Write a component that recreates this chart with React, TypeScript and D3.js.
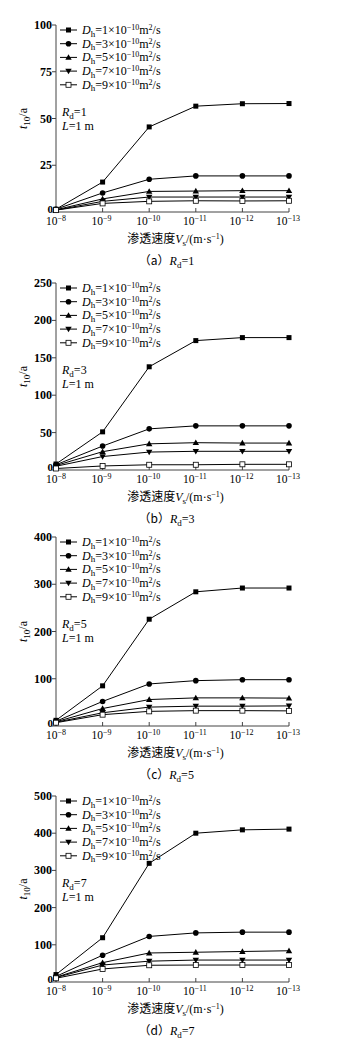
import React from "react";
import * as d3 from "d3";

// x categories: seepage velocity exponent 10^-8 ... 10^-13
const xExponents = ["−8", "−9", "−10", "−11", "−12", "−13"];
const dhLabels = ["1", "3", "5", "7", "9"];
const markerTypes = ["square", "circle", "triUp", "triDown", "openSquare"];

// Rd = 1
const rd1Dh1 = [1.5, 16, 45.5, 56.6, 57.9, 58];
const rd1Dh3 = [1.5, 10.2, 17.5, 19.3, 19.3, 19.3];
const rd1Dh5 = [1.2, 7, 11, 11.2, 11.4, 11.4];
const rd1Dh7 = [1, 5.7, 8, 8, 8, 8];
const rd1Dh9 = [1, 4.6, 5.7, 6, 5.9, 6];

// Rd = 3
const rd3Dh1 = [8, 51, 138, 173, 177, 177];
const rd3Dh3 = [7, 32, 55, 59, 59, 59];
const rd3Dh5 = [6, 24.5, 35, 36.5, 36, 36];
const rd3Dh7 = [5, 18, 24, 25, 25, 25];
const rd3Dh9 = [2, 5.4, 7, 7, 7.6, 7.6];

// Rd = 5
const rd5Dh1 = [12, 85, 226, 284, 292, 292];
const rd5Dh3 = [10, 52, 89, 96, 98, 98];
const rd5Dh5 = [9, 37, 56, 59.5, 59.5, 59];
const rd5Dh7 = [8, 28, 40, 42, 42, 42.5];
const rd5Dh9 = [7, 24, 31, 32.5, 32.5, 32];

// Rd = 7
const rd7Dh1 = [20, 119, 319, 400, 409, 411];
const rd7Dh3 = [15, 72, 122.5, 132, 134, 134];
const rd7Dh5 = [13, 52, 78, 80, 82, 84];
const rd7Dh7 = [12, 45.6, 56, 59, 59, 59];
const rd7Dh9 = [10, 35, 45, 45.6, 45.6, 45.6];

const panels = [
  { letter: "a", rd: "1", yMax: 100, yStep: 25, top: 25, bottom: 212, series: [rd1Dh1, rd1Dh3, rd1Dh5, rd1Dh7, rd1Dh9] },
  { letter: "b", rd: "3", yMax: 250, yStep: 50, top: 283, bottom: 470, series: [rd3Dh1, rd3Dh3, rd3Dh5, rd3Dh7, rd3Dh9] },
  { letter: "c", rd: "5", yMax: 400, yStep: 100, top: 537, bottom: 726, series: [rd5Dh1, rd5Dh3, rd5Dh5, rd5Dh7, rd5Dh9] },
  { letter: "d", rd: "7", yMax: 500, yStep: 100, top: 796, bottom: 982, series: [rd7Dh1, rd7Dh3, rd7Dh5, rd7Dh7, rd7Dh9] },
];

const W = 352;
const H = 1046;
const left = 56;
const right = 289;
const serif = "Liberation Serif";
const cjk = "Noto Sans CJK SC";
const axisColor = "#444";

const Marker = ({ type, x, y }: { type: string; x: number; y: number }) => {
  const s = 5;
  if (type === "square") return <rect x={x - s / 2} y={y - s / 2} width={s} height={s} fill="#000" />;
  if (type === "openSquare")
    return <rect x={x - s / 2} y={y - s / 2} width={s} height={s} fill="#fff" stroke="#000" strokeWidth={0.8} />;
  if (type === "circle") return <circle cx={x} cy={y} r={2.8} fill="#000" />;
  if (type === "triUp")
    return <path d={`M${x},${y - 3.2}L${x + 3.2},${y + 2.4}L${x - 3.2},${y + 2.4}Z`} fill="#000" />;
  return <path d={`M${x},${y + 3.2}L${x + 3.2},${y - 2.4}L${x - 3.2},${y - 2.4}Z`} fill="#000" />;
};

const Panel = ({ p }: { p: (typeof panels)[number] }) => {
  const x = d3.scaleLinear().domain([0, xExponents.length - 1]).range([left, right]);
  const y = d3.scaleLinear().domain([0, p.yMax]).range([p.bottom, p.top]);
  const yTicks = d3.range(0, p.yMax + 1, p.yStep);
  const line = d3
    .line<number>()
    .x((_, i) => x(i))
    .y((d) => y(d));
  const cx = (left + right) / 2;

  return (
    <g>
      {/* axes */}
      <line x1={left} x2={left} y1={p.top} y2={p.bottom} stroke={axisColor} strokeWidth={1} />
      <line x1={left} x2={right} y1={p.bottom} y2={p.bottom} stroke={axisColor} strokeWidth={1} />
      {yTicks.map((t) => (
        <g key={t}>
          <line x1={left - 4} x2={left} y1={y(t)} y2={y(t)} stroke={axisColor} />
          <text
            x={t === 0 ? left - 3 : left - 4}
            y={t === 0 ? y(t) + 1 : y(t) + 4}
            textAnchor="end"
            fontFamily={serif}
            fontSize={t === 0 ? 11 : 12}
            fontWeight="bold"
          >
            {t}
          </text>
        </g>
      ))}
      {xExponents.map((e, i) => (
        <g key={e}>
          <line x1={x(i)} x2={x(i)} y1={p.bottom} y2={p.bottom - 4} stroke={axisColor} />
          <text x={x(i) + (i === 0 ? 0 : -1)} y={p.bottom + 13} textAnchor="middle" fontFamily={serif} fontSize={11.5}>
            10
            <tspan dy={-4} fontSize={8}>
              {e}
            </tspan>
          </text>
        </g>
      ))}

      {/* series */}
      {p.series.map((s, k) => (
        <g key={k}>
          <path d={line(s) || ""} fill="none" stroke="#000" strokeWidth={1} />
          {s.map((v, i) => (
            <Marker key={i} type={markerTypes[k]} x={x(i)} y={y(v)} />
          ))}
        </g>
      ))}

      {/* legend */}
      {dhLabels.map((d, k) => {
        const ly = p.top + 5 + k * 13.7;
        return (
          <g key={d}>
            <line x1={60} x2={77} y1={ly} y2={ly} stroke="#000" />
            <Marker type={markerTypes[k]} x={68.5} y={ly} />
            <text x={82} y={ly + 4} fontFamily={serif} fontSize={12}>
              <tspan fontStyle="italic">D</tspan>
              <tspan dy={2.5} fontSize={9}>h</tspan>
              <tspan dy={-2.5}>=</tspan>
              <tspan>{d}×10</tspan>
              <tspan dy={-4} fontSize={8}>−10</tspan>
              <tspan dy={4}>m</tspan>
              <tspan dy={-4} fontSize={8}>2</tspan>
              <tspan dy={4}>/s</tspan>
            </text>
          </g>
        );
      })}

      {/* annotation */}
      <text x={62} y={p.top + 91} fontFamily={serif} fontSize={12}>
        <tspan fontStyle="italic">R</tspan>
        <tspan dy={2.5} fontSize={9}>d</tspan>
        <tspan dy={-2.5}>={p.rd}</tspan>
      </text>
      <text x={62} y={p.top + 105} fontFamily={serif} fontSize={12}>
        <tspan fontStyle="italic">L</tspan>
        <tspan>=1 m</tspan>
      </text>

      {/* y title */}
      <text
        transform={`translate(27,${(p.top + p.bottom) / 2}) rotate(-90)`}
        textAnchor="middle"
        fontFamily={serif}
        fontSize={12}
      >
        <tspan fontStyle="italic">t</tspan>
        <tspan dy={2.5} fontSize={9}>10</tspan>
        <tspan dy={-2.5}>/a</tspan>
      </text>

      {/* x title */}
      <text x={cx + 3} y={p.bottom + 31} textAnchor="middle" fontFamily={serif} fontSize={12}>
        <tspan fontFamily={cjk}>渗透速度</tspan>
        <tspan fontStyle="italic">V</tspan>
        <tspan dy={2.5} fontSize={9}>s</tspan>
        <tspan dy={-2.5}>/(m·s</tspan>
        <tspan dy={-4} fontSize={8}>−1</tspan>
        <tspan dy={4}>)</tspan>
      </text>

      {/* caption */}
      <text x={cx - 6} y={p.bottom + 53} textAnchor="middle" fontFamily={serif} fontSize={12}>
        <tspan fontFamily={cjk}>（{p.letter}）</tspan>
        <tspan fontStyle="italic">R</tspan>
        <tspan dy={2.5} fontSize={9}>d</tspan>
        <tspan dy={-2.5}>={p.rd}</tspan>
      </text>
    </g>
  );
};

export default function App() {
  return (
    <div style={{ position: "absolute", left: 0, top: 0, width: W, height: H, background: "#fff" }}>
      <svg width={W} height={H} viewBox={`0 0 ${W} ${H}`}>
        <rect width={W} height={H} fill="#fff" />
        {panels.map((p) => (
          <Panel key={p.letter} p={p} />
        ))}
      </svg>
    </div>
  );
}
